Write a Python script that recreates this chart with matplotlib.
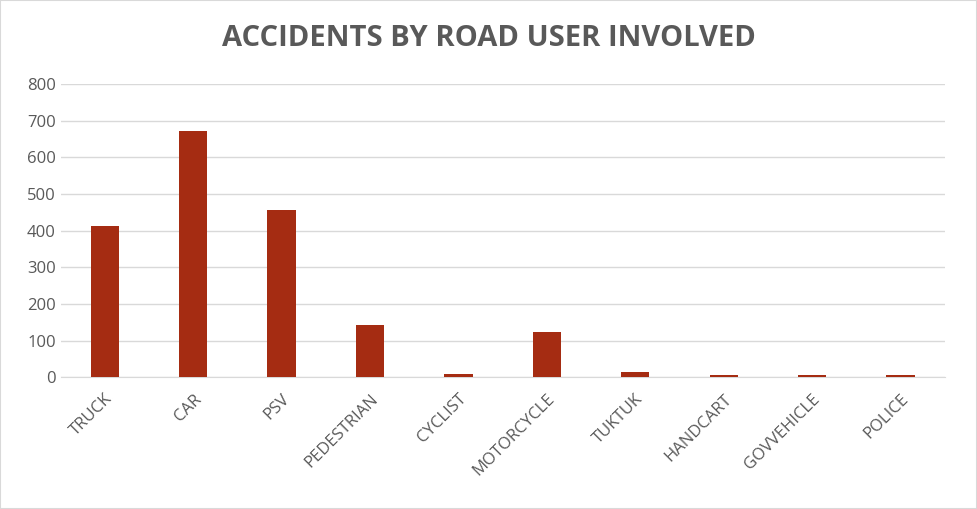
import matplotlib
matplotlib.use("Agg")
import matplotlib.pyplot as plt

categories = ["TRUCK", "CAR", "PSV", "PEDESTRIAN", "CYCLIST", "MOTORCYCLE", "TUKTUK", "HANDCART", "GOVVEHICLE", "POLICE"]
values = [413, 673, 457, 142, 9, 122, 15, 6, 6, 6]
yticks = [0, 100, 200, 300, 400, 500, 600, 700, 800]

plt.rcParams['font.family'] = ['Open Sans', 'DejaVu Sans']
fig = plt.figure(figsize=(9.77, 5.09), dpi=100)
fig.patches.append(plt.Rectangle((0, 0), 1, 1, transform=fig.transFigure, fill=False, edgecolor="#d9d9d9", lw=1.5))
ax = fig.add_axes([0.062, 0.259, 0.905, 0.576])
x = range(len(categories))
ax.bar(x, values, width=0.32, color="#A52C12", zorder=3)
ax.set_ylim(0, 800)
ax.set_xlim(-0.5, len(categories) - 0.5)
ax.set_yticks(yticks)
ax.grid(axis="y", color="#d9d9d9", lw=1, zorder=0)
for s in ["top", "right", "left"]:
    ax.spines[s].set_visible(False)
ax.spines["bottom"].set_color("#d9d9d9")
ax.set_xticks(list(x))
ax.set_xticklabels(categories, rotation=45, ha="right", rotation_mode="anchor")
ax.tick_params(axis="both", length=0, labelcolor="#595959", labelsize=12)
ax.tick_params(axis="x", pad=10)
fig.text(0.5, 0.925, "ACCIDENTS BY ROAD USER INVOLVED", ha="center", va="center",
         fontsize=21, fontweight="bold", color="#595959")
fig.savefig("out.png", dpi=100)
